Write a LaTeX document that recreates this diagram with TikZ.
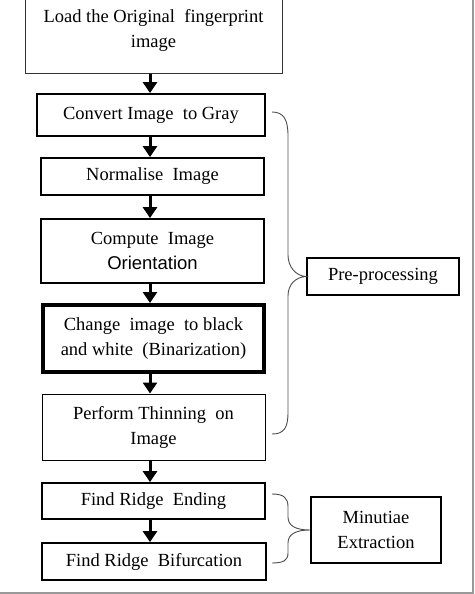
\documentclass[tikz,border=0pt]{standalone}
\usepackage{fontspec}
\setmainfont{Liberation Serif}
\newfontfamily\arialfont{Liberation Sans}
\usetikzlibrary{arrows.meta}

\begin{document}
\begin{tikzpicture}[x=1pt, y=-1pt,
    font=\fontsize{18.5}{25}\selectfont,
    box/.style={draw, line width=1.8pt, minimum height=#1, inner sep=0pt, align=center},
    box/.default=37pt,
    flow/.style={line width=3pt, -{Triangle[width=14pt, length=11pt]}},
    brace/.style={draw=black!70, line width=0.9pt}]
    \useasboundingbox (0,0) rectangle (474,594);

    % Outer frame (right and bottom only)
    \draw[gray!80, line width=2pt] (472.5,0) -- (472.5,592.5) -- (0,592.5);

    % Flow boxes
    \node[box=73pt, line width=1pt, draw=black!80, minimum width=257pt] (load) at (153.5,36.5) {};
    \node[align=center] (loadtxt) at ([yshift=6pt]load.center) {Load the Original\ \ fingerprint\\image};
    \node[box=42pt, minimum width=228pt] (gray) at (151,115) {Convert Image\ \ to Gray};
    \node[box, minimum width=223pt] (norm) at (152.5,176.5) {Normalise\ \ Image};
    \node[box=64pt, minimum width=223pt] (orient) at (152.5,251) {Compute\ \ Image\\{\arialfont Orientation}};
    \node[box=67pt, line width=4pt, minimum width=221pt] (binar) at (153.5,338.5) {Change\ \ image\ \ to black\\and white\ \ (Binarization)};
    \node[box=66pt, line width=1pt, minimum width=223pt] (thin) at (153.5,427) {Perform Thinning\ \ on\\Image};
    \node[box=36pt, minimum width=223pt] (ending) at (153.5,501) {Find Ridge\ \ Ending};
    \node[box, minimum width=224pt] (bifur) at (154,561.5) {Find Ridge\ \ Bifurcation};

    % Group boxes
    \node[box, minimum width=152pt] (pre) at (383,276.5) {Pre-processing};
    \node[box=66pt, minimum width=130pt] (minut) at (376,530) {Minutiae\\Extraction};

    % Arrows
    \foreach \a/\b in {load/gray, gray/norm, norm/orient, orient/binar, binar/thin, thin/ending, ending/bifur}
        \draw[flow] (\a.south -| 150,0) -- (\b.north -| 150,0);

    % Brace for pre-processing
    \coordinate (b1top) at (272,112);
    \coordinate (b1tip) at (pre.west);
    \coordinate (b1bot) at (272,434);
    \draw[brace] (b1top) .. controls (284,112) and (288,120) .. (288,136) -- (288,255)
        .. controls (288,267) and (296,276) .. (b1tip)
        .. controls (296,277) and (288,284) .. (288,296) -- (288,412)
        .. controls (288,428) and (284,434) .. (b1bot);

    % Brace for minutiae extraction
    \coordinate (b2top) at (272,494);
    \coordinate (b2tip) at (minut.west);
    \coordinate (b2bot) at (272,563);
    \draw[brace] (b2top) .. controls (284,494) and (288,498) .. (288,507) -- (288,517)
        .. controls (288,526) and (296,530) .. (b2tip)
        .. controls (296,530) and (288,534) .. (288,543) -- (288,553)
        .. controls (288,560) and (284,563) .. (b2bot);
\end{tikzpicture}
\end{document}
